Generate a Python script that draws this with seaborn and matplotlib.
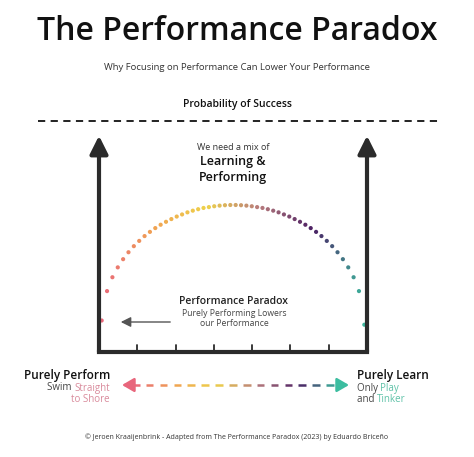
import matplotlib
matplotlib.use("Agg")
import matplotlib.pyplot as plt
from matplotlib.colors import LinearSegmentedColormap
import seaborn as sns
import pandas as pd

sns.set_theme(style="white")
plt.rcParams['font.family'] = ['Open Sans', 'DejaVu Sans']

# Data: mix position (0 = purely perform, 100 = purely learn) vs probability of success
mix = [1, 3, 5, 7, 9, 11, 13, 15, 17, 19, 21, 23, 25, 27, 29, 31, 33, 35, 37, 39, 41, 43, 45, 47, 49,
       51, 53, 55, 57, 59, 61, 63, 65, 67, 69, 71, 73, 75, 77, 79, 81, 83, 85, 87, 89, 91, 93, 95, 97, 99]
success = [15, 29, 35.6, 40.3, 44.2, 47.5, 50.4, 52.9, 55.2, 57.2, 59, 60.6, 62, 63.3, 64.5, 65.5, 66.5, 67.3,
           68, 68.6, 69, 69.4, 69.7, 69.9, 70,
           70, 69.9, 69.7, 69.4, 69, 68.6, 68, 67.3, 66.5, 65.5, 64.5, 63.3, 62, 60.6, 59, 57.2, 55.2, 52.9,
           50.4, 47.5, 44.2, 40.3, 35.6, 29, 13]
tick_positions = [14.3, 28.6, 42.9, 57.1, 71.4, 85.7]

cmap = LinearSegmentedColormap.from_list("mix", ["#e8667c", "#f0a152", "#eed24a", "#b77a7c", "#4b1f63", "#3cbda0"])

W, H = 474, 457
fig = plt.figure(figsize=(W / 100, H / 100), dpi=100)
bg = fig.add_axes([0, 0, 1, 1])
bg.set_xlim(0, W); bg.set_ylim(H, 0); bg.axis('off')

ax = fig.add_axes([99 / W, (H - 352) / H, 268 / W, 210 / H])
ax.set_xlim(0, 100); ax.set_ylim(0, 100); ax.axis('off')
df = pd.DataFrame({"mix": mix, "success": success})
sns.scatterplot(data=df, x="mix", y="success", hue="mix", palette=cmap, hue_norm=(0, 100),
                s=9, linewidth=0, legend=False, ax=ax, clip_on=False, zorder=3)

dark = "#2b2b2b"
ax.plot([0, 100], [0, 0], color=dark, lw=3, clip_on=False, solid_capstyle='projecting')
for xx in (0, 100):
    ax.annotate("", xy=(xx, 103), xytext=(xx, 0), xycoords='data',
                arrowprops=dict(arrowstyle="-|>,head_width=0.45,head_length=0.9", color=dark, lw=3,
                                shrinkA=0, shrinkB=0), annotation_clip=False)
for t in tick_positions:
    ax.plot([t, t], [0, 3.5], color=dark, lw=1.3, clip_on=False)

bg.text(237, 31, "The Performance Paradox", ha='center', va='center', fontsize=23, weight='semibold', color="#111111")
bg.text(237, 67, "Why Focusing on Performance Can Lower Your Performance", ha='center', va='center', fontsize=6.8, color="#333333")
bg.text(237, 104, "Probability of Success", ha='center', va='center', fontsize=7.5, weight='semibold', color="#111111")
bg.plot([38, 440], [121, 121], color="#111111", lw=1.3, ls=(0, (4, 3)))

bg.text(233, 147, "We need a mix of", ha='center', va='center', fontsize=6.5, color="#333333")
bg.text(233, 162, "Learning &", ha='center', va='center', fontsize=9, weight='semibold', color="#111111")
bg.text(233, 178, "Performing", ha='center', va='center', fontsize=9, weight='semibold', color="#111111")

bg.text(234, 302, "Performance Paradox", ha='center', va='center', fontsize=7.5, weight='semibold', color="#222222")
bg.text(234, 313, "Purely Performing Lowers", ha='center', va='center', fontsize=6.2, color="#444444")
bg.text(234, 324, "our Performance", ha='center', va='center', fontsize=6.2, color="#444444")
bg.annotate("", xy=(118, 322), xytext=(173, 322),
            arrowprops=dict(arrowstyle="-|>,head_width=0.25,head_length=0.5", color="#555555", lw=1))

x0, x1 = 132, 340
n = 15
step = (x1 - x0) / n
for i in range(n):
    xs = x0 + i * step
    bg.plot([xs, xs + step * 0.55], [385, 385], color=cmap((xs + step * 0.3 - x0) / (x1 - x0)), lw=1.8,
            solid_capstyle='butt')
bg.annotate("", xy=(122, 385), xytext=(134, 385),
            arrowprops=dict(arrowstyle="-|>,head_width=0.35,head_length=0.6", color="#e8667c", lw=1.8, shrinkA=0, shrinkB=0))
bg.annotate("", xy=(349, 385), xytext=(337, 385),
            arrowprops=dict(arrowstyle="-|>,head_width=0.35,head_length=0.6", color="#3cbda0", lw=1.8, shrinkA=0, shrinkB=0))

pink, teal, txt = "#d98b9c", "#5fc2a8", "#444444"
bg.text(110, 375, "Purely Perform", ha='right', va='center', fontsize=8.5, weight='semibold', color="#111111")
t1 = bg.text(110, 388, "Straight", ha='right', va='center', fontsize=7, color=pink)
bg.annotate("Swim ", xy=(0, 0.5), xycoords=t1, ha='right', va='center', fontsize=7, color=txt)
bg.text(110, 400, "to Shore", ha='right', va='center', fontsize=7, color=pink)

bg.text(357, 375, "Purely Learn", ha='left', va='center', fontsize=8.5, weight='semibold', color="#111111")
t2 = bg.text(357, 388, "Only ", ha='left', va='center', fontsize=7, color=txt)
bg.annotate("Play", xy=(1, 0.5), xycoords=t2, ha='left', va='center', fontsize=7, color=teal)
t3 = bg.text(357, 400, "and ", ha='left', va='center', fontsize=7, color=txt)
bg.annotate("Tinker", xy=(1, 0.5), xycoords=t3, ha='left', va='center', fontsize=7, color=teal)

bg.text(237, 437, "© Jeroen Kraaijenbrink - Adapted from The Performance Paradox (2023) by Eduardo Briceño",
        ha='center', va='center', fontsize=5, color="#333333")

fig.savefig("out.png", dpi=100, facecolor="white")
